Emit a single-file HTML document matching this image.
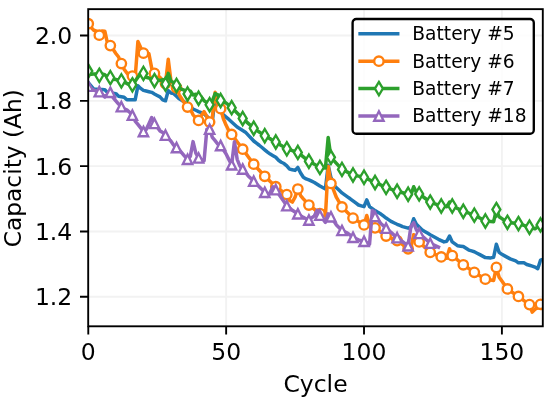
<!DOCTYPE html>
<html><head><meta charset="utf-8"><style>
html,body{margin:0;padding:0;background:#fff;}
svg{display:block;}
</style></head><body>
<svg width="550" height="401" viewBox="0 0 550 401">
<rect width="550" height="401" fill="#fff"/>
<defs><clipPath id="ax"><rect x="88.2" y="9.15" width="454.60" height="317.15"/></clipPath></defs>
<path d="M226.15 9.15V326.3 M364.02 9.15V326.3 M501.90 9.15V326.3 M88.2 296.78H542.8 M88.2 231.46H542.8 M88.2 166.14H542.8 M88.2 100.82H542.8 M88.2 35.50H542.8" stroke="#f2f2f2" stroke-width="1.88" fill="none" clip-path="url(#ax)"/>
<g clip-path="url(#ax)">
<polyline points="88.28,82.53 91.03,85.80 93.79,89.06 96.55,89.23 99.31,89.39 102.06,89.55 104.82,89.72 107.58,92.66 110.34,92.98 113.09,93.31 115.85,93.63 118.61,96.25 121.37,96.74 124.12,97.23 126.88,99.84 129.64,99.84 132.40,99.84 135.15,99.84 137.91,85.80 140.67,88.41 143.43,90.37 146.18,91.02 148.94,91.68 151.70,92.33 154.45,93.96 157.21,95.43 159.97,96.90 162.73,99.84 165.49,100.82 168.24,90.70 171.00,92.98 173.76,93.63 176.51,96.25 179.27,98.86 182.03,100.60 184.79,102.34 187.55,104.09 190.30,106.54 193.06,108.99 195.82,110.29 198.57,111.60 201.33,112.74 204.09,113.88 206.85,116.33 209.61,118.78 212.36,121.07 215.12,96.90 217.88,105.72 220.63,111.27 223.39,114.86 226.15,117.15 228.91,119.44 231.66,121.94 234.42,124.44 237.18,126.95 239.94,128.69 242.69,130.43 245.45,132.17 248.21,135.11 250.97,138.05 253.72,140.99 256.48,143.11 259.24,145.24 262.00,147.52 264.75,149.81 267.51,152.10 270.27,154.06 273.03,155.69 275.78,157.32 278.54,160.26 281.30,162.22 284.06,163.53 286.81,165.81 289.57,169.08 292.33,169.73 295.09,170.39 297.85,167.45 300.60,173.00 303.36,177.24 306.12,178.88 308.88,179.86 311.63,181.16 314.39,182.47 317.15,184.27 319.90,186.06 322.66,187.53 325.42,189.00 328.18,165.16 330.94,177.57 333.69,185.08 336.45,187.70 339.21,190.31 341.97,192.92 344.72,194.88 347.48,196.84 350.24,198.80 353.00,200.87 355.75,202.94 358.51,205.01 361.27,205.82 364.02,206.64 366.78,199.78 369.54,206.64 372.30,208.60 375.05,210.56 377.81,212.19 380.57,213.82 383.33,215.95 386.09,218.07 388.84,219.87 391.60,221.66 394.36,222.97 397.12,224.27 399.87,225.42 402.63,226.56 405.39,227.38 408.14,228.19 410.90,227.21 413.66,218.72 416.42,224.27 419.17,227.05 421.93,229.83 424.69,231.46 427.45,233.09 430.21,234.73 432.96,236.25 435.72,237.77 438.48,239.30 441.24,240.60 443.99,241.91 446.75,241.26 449.51,236.03 452.26,241.91 455.02,243.87 457.78,245.83 460.54,246.16 463.29,246.48 466.05,248.28 468.81,250.08 471.57,250.89 474.32,251.71 477.08,253.18 479.84,254.65 482.60,256.12 485.36,257.59 488.11,257.75 490.87,257.91 493.63,257.26 496.38,244.20 499.14,252.36 501.90,254.32 504.66,255.85 507.41,257.37 510.17,258.89 512.93,259.87 515.69,260.85 518.44,262.81 521.20,262.81 523.96,262.81 526.72,264.45 529.48,265.26 532.23,266.08 534.99,267.06 537.75,268.69 540.50,260.20 543.26,259.22" fill="none" stroke="#1f77b4" stroke-width="3.5" stroke-linejoin="round" stroke-linecap="square"/>
<polyline points="88.28,23.74 91.03,27.34 93.79,30.27 96.55,31.25 99.31,35.17 102.06,30.93 104.82,31.25 107.58,43.66 110.34,45.62 113.09,49.22 115.85,53.46 118.61,57.06 121.37,63.59 124.12,69.14 126.88,73.06 129.64,76.00 132.40,76.00 135.15,77.96 137.91,41.38 140.67,47.58 143.43,53.14 146.18,54.44 148.94,53.79 151.70,68.16 154.45,73.39 157.21,75.02 159.97,77.30 162.73,80.57 165.49,83.51 168.24,59.34 171.00,81.22 173.76,83.84 176.51,87.76 179.27,94.94 182.03,99.19 184.79,103.43 187.55,107.03 190.30,108.99 193.06,114.86 195.82,117.80 198.57,120.42 201.33,115.52 204.09,111.60 206.85,116.50 209.61,122.05 212.36,117.15 215.12,92.33 217.88,104.09 220.63,108.66 223.39,118.78 226.15,125.31 228.91,130.87 231.66,134.46 234.42,138.13 237.18,141.81 239.94,145.48 242.69,149.16 245.45,152.91 248.21,156.67 250.97,160.42 253.72,164.18 256.48,167.20 259.24,170.22 262.00,173.24 264.75,176.26 267.51,178.88 270.27,181.49 273.03,184.10 275.78,186.72 278.54,188.68 281.30,190.64 284.06,192.59 286.81,194.55 289.57,200.43 292.33,202.07 295.09,197.17 297.85,189.00 300.60,195.53 303.36,198.80 306.12,201.90 308.88,205.01 311.63,207.13 314.39,209.25 317.15,211.37 319.90,213.50 322.66,214.80 325.42,216.11 328.18,166.14 330.94,183.45 333.69,190.47 336.45,197.49 339.21,202.23 341.97,206.96 344.72,209.74 347.48,212.52 350.24,215.29 353.00,218.07 355.75,219.78 358.51,221.50 361.27,223.21 364.02,224.93 366.78,215.46 369.54,224.93 372.30,226.40 375.05,227.87 377.81,229.91 380.57,231.95 383.33,233.99 386.09,236.03 388.84,237.18 391.60,238.32 394.36,239.46 397.12,240.60 399.87,242.65 402.63,244.69 405.39,246.73 408.14,248.77 410.90,247.79 413.66,234.73 416.42,239.62 419.17,241.91 421.93,244.52 424.69,247.14 427.45,249.75 430.21,252.36 432.96,253.51 435.72,254.65 438.48,255.79 441.24,256.93 443.99,257.59 446.75,258.24 449.51,248.77 452.26,255.63 455.02,257.91 457.78,260.20 460.54,262.49 463.29,264.77 466.05,266.65 468.81,268.53 471.57,270.41 474.32,272.29 477.08,274.00 479.84,275.71 482.60,277.43 485.36,279.14 488.11,279.58 490.87,280.01 493.63,280.45 496.38,267.39 499.14,277.18 501.90,281.10 504.66,285.02 507.41,288.94 510.17,290.82 512.93,292.70 515.69,294.58 518.44,296.45 521.20,298.49 523.96,300.54 526.72,302.58 529.48,304.62 532.23,312.13 534.99,309.19 537.75,307.88 540.50,304.29 543.26,303.31" fill="none" stroke="#ff7f0e" stroke-width="3.5" stroke-linejoin="round" stroke-linecap="square"/>
<circle cx="88.28" cy="23.74" r="4.70" fill="#fff" stroke="#ff7f0e" stroke-width="2.35"/>
<circle cx="99.31" cy="35.17" r="4.70" fill="#fff" stroke="#ff7f0e" stroke-width="2.35"/>
<circle cx="110.34" cy="45.62" r="4.70" fill="#fff" stroke="#ff7f0e" stroke-width="2.35"/>
<circle cx="121.37" cy="63.59" r="4.70" fill="#fff" stroke="#ff7f0e" stroke-width="2.35"/>
<circle cx="132.40" cy="76.00" r="4.70" fill="#fff" stroke="#ff7f0e" stroke-width="2.35"/>
<circle cx="143.43" cy="53.14" r="4.70" fill="#fff" stroke="#ff7f0e" stroke-width="2.35"/>
<circle cx="154.45" cy="73.39" r="4.70" fill="#fff" stroke="#ff7f0e" stroke-width="2.35"/>
<circle cx="165.49" cy="83.51" r="4.70" fill="#fff" stroke="#ff7f0e" stroke-width="2.35"/>
<circle cx="176.51" cy="87.76" r="4.70" fill="#fff" stroke="#ff7f0e" stroke-width="2.35"/>
<circle cx="187.55" cy="107.03" r="4.70" fill="#fff" stroke="#ff7f0e" stroke-width="2.35"/>
<circle cx="198.57" cy="120.42" r="4.70" fill="#fff" stroke="#ff7f0e" stroke-width="2.35"/>
<circle cx="209.61" cy="122.05" r="4.70" fill="#fff" stroke="#ff7f0e" stroke-width="2.35"/>
<circle cx="220.63" cy="108.66" r="4.70" fill="#fff" stroke="#ff7f0e" stroke-width="2.35"/>
<circle cx="231.66" cy="134.46" r="4.70" fill="#fff" stroke="#ff7f0e" stroke-width="2.35"/>
<circle cx="242.69" cy="149.16" r="4.70" fill="#fff" stroke="#ff7f0e" stroke-width="2.35"/>
<circle cx="253.72" cy="164.18" r="4.70" fill="#fff" stroke="#ff7f0e" stroke-width="2.35"/>
<circle cx="264.75" cy="176.26" r="4.70" fill="#fff" stroke="#ff7f0e" stroke-width="2.35"/>
<circle cx="275.78" cy="186.72" r="4.70" fill="#fff" stroke="#ff7f0e" stroke-width="2.35"/>
<circle cx="286.81" cy="194.55" r="4.70" fill="#fff" stroke="#ff7f0e" stroke-width="2.35"/>
<circle cx="297.85" cy="189.00" r="4.70" fill="#fff" stroke="#ff7f0e" stroke-width="2.35"/>
<circle cx="308.88" cy="205.01" r="4.70" fill="#fff" stroke="#ff7f0e" stroke-width="2.35"/>
<circle cx="319.90" cy="213.50" r="4.70" fill="#fff" stroke="#ff7f0e" stroke-width="2.35"/>
<circle cx="330.94" cy="183.45" r="4.70" fill="#fff" stroke="#ff7f0e" stroke-width="2.35"/>
<circle cx="341.97" cy="206.96" r="4.70" fill="#fff" stroke="#ff7f0e" stroke-width="2.35"/>
<circle cx="353.00" cy="218.07" r="4.70" fill="#fff" stroke="#ff7f0e" stroke-width="2.35"/>
<circle cx="364.02" cy="224.93" r="4.70" fill="#fff" stroke="#ff7f0e" stroke-width="2.35"/>
<circle cx="375.05" cy="227.87" r="4.70" fill="#fff" stroke="#ff7f0e" stroke-width="2.35"/>
<circle cx="386.09" cy="236.03" r="4.70" fill="#fff" stroke="#ff7f0e" stroke-width="2.35"/>
<circle cx="397.12" cy="240.60" r="4.70" fill="#fff" stroke="#ff7f0e" stroke-width="2.35"/>
<circle cx="408.14" cy="248.77" r="4.70" fill="#fff" stroke="#ff7f0e" stroke-width="2.35"/>
<circle cx="419.17" cy="241.91" r="4.70" fill="#fff" stroke="#ff7f0e" stroke-width="2.35"/>
<circle cx="430.21" cy="252.36" r="4.70" fill="#fff" stroke="#ff7f0e" stroke-width="2.35"/>
<circle cx="441.24" cy="256.93" r="4.70" fill="#fff" stroke="#ff7f0e" stroke-width="2.35"/>
<circle cx="452.26" cy="255.63" r="4.70" fill="#fff" stroke="#ff7f0e" stroke-width="2.35"/>
<circle cx="463.29" cy="264.77" r="4.70" fill="#fff" stroke="#ff7f0e" stroke-width="2.35"/>
<circle cx="474.32" cy="272.29" r="4.70" fill="#fff" stroke="#ff7f0e" stroke-width="2.35"/>
<circle cx="485.36" cy="279.14" r="4.70" fill="#fff" stroke="#ff7f0e" stroke-width="2.35"/>
<circle cx="496.38" cy="267.39" r="4.70" fill="#fff" stroke="#ff7f0e" stroke-width="2.35"/>
<circle cx="507.41" cy="288.94" r="4.70" fill="#fff" stroke="#ff7f0e" stroke-width="2.35"/>
<circle cx="518.44" cy="296.45" r="4.70" fill="#fff" stroke="#ff7f0e" stroke-width="2.35"/>
<circle cx="529.48" cy="304.62" r="4.70" fill="#fff" stroke="#ff7f0e" stroke-width="2.35"/>
<circle cx="540.50" cy="304.29" r="4.70" fill="#fff" stroke="#ff7f0e" stroke-width="2.35"/>
<polyline points="88.28,71.10 91.03,74.37 93.79,74.04 96.55,74.04 99.31,75.35 102.06,74.04 104.82,74.69 107.58,77.30 110.34,77.63 113.09,79.26 115.85,79.59 118.61,79.92 121.37,80.90 124.12,81.88 126.88,83.51 129.64,84.49 132.40,84.82 135.15,81.22 137.91,77.30 140.67,73.39 143.43,73.39 146.18,77.30 148.94,77.96 151.70,79.26 154.45,80.57 157.21,79.59 159.97,80.57 162.73,79.59 165.49,84.16 168.24,73.39 171.00,81.22 173.76,82.53 176.51,85.47 179.27,87.76 182.03,89.39 184.79,90.37 187.55,93.96 190.30,91.02 193.06,94.94 195.82,94.29 198.57,98.21 201.33,96.90 204.09,100.82 206.85,102.45 209.61,104.74 212.36,100.82 215.12,93.63 217.88,94.94 220.63,100.49 223.39,101.47 226.15,103.11 228.91,105.07 231.66,107.68 234.42,110.37 237.18,113.07 239.94,115.76 242.69,118.46 245.45,120.91 248.21,123.36 250.97,125.80 253.72,128.25 256.48,130.13 259.24,132.01 262.00,133.89 264.75,135.77 267.51,137.32 270.27,138.87 273.03,140.42 275.78,141.97 278.54,143.69 281.30,145.40 284.06,147.12 286.81,148.83 289.57,149.73 292.33,150.63 295.09,151.52 297.85,152.42 300.60,154.63 303.36,156.83 306.12,159.04 308.88,161.24 311.63,162.79 314.39,164.34 317.15,165.90 319.90,167.45 322.66,167.77 325.42,168.10 328.18,137.40 330.94,157.32 333.69,160.34 336.45,163.36 339.21,166.38 341.97,169.41 344.72,170.79 347.48,172.18 350.24,173.57 353.00,174.96 355.75,175.53 358.51,176.10 361.27,176.67 364.02,177.24 366.78,178.55 369.54,179.86 372.30,181.16 375.05,182.47 377.81,183.69 380.57,184.92 383.33,186.14 386.09,187.37 388.84,188.35 391.60,189.33 394.36,190.31 397.12,191.29 399.87,192.02 402.63,192.76 405.39,193.49 408.14,194.23 410.90,194.88 413.66,186.72 416.42,192.27 419.17,193.90 421.93,195.94 424.69,197.98 427.45,200.02 430.21,202.07 432.96,203.05 435.72,204.03 438.48,205.01 441.24,205.99 443.99,206.31 446.75,206.64 449.51,202.07 452.26,205.99 455.02,207.29 457.78,208.60 460.54,209.90 463.29,211.21 466.05,212.19 468.81,213.17 471.57,214.15 474.32,215.13 477.08,216.60 479.84,218.07 482.60,219.54 485.36,221.01 488.11,221.23 490.87,221.44 493.63,221.66 496.38,209.58 499.14,216.76 501.90,218.61 504.66,220.46 507.41,222.32 510.17,222.64 512.93,222.97 515.69,223.30 518.44,223.62 521.20,224.52 523.96,225.42 526.72,226.32 529.48,227.21 532.23,228.03 534.99,228.85 537.75,226.89 540.50,224.93 543.26,223.29" fill="none" stroke="#2ca02c" stroke-width="3.5" stroke-linejoin="round" stroke-linecap="square"/>
<polygon points="88.28,64.45 92.26,71.10 88.28,77.75 84.29,71.10" fill="#fff" stroke="#2ca02c" stroke-width="2.35" stroke-linejoin="miter" stroke-miterlimit="10"/>
<polygon points="99.31,68.70 103.29,75.35 99.31,81.99 95.32,75.35" fill="#fff" stroke="#2ca02c" stroke-width="2.35" stroke-linejoin="miter" stroke-miterlimit="10"/>
<polygon points="110.34,70.98 114.32,77.63 110.34,84.28 106.35,77.63" fill="#fff" stroke="#2ca02c" stroke-width="2.35" stroke-linejoin="miter" stroke-miterlimit="10"/>
<polygon points="121.37,74.25 125.35,80.90 121.37,87.54 117.38,80.90" fill="#fff" stroke="#2ca02c" stroke-width="2.35" stroke-linejoin="miter" stroke-miterlimit="10"/>
<polygon points="132.40,78.17 136.38,84.82 132.40,91.46 128.41,84.82" fill="#fff" stroke="#2ca02c" stroke-width="2.35" stroke-linejoin="miter" stroke-miterlimit="10"/>
<polygon points="143.43,66.74 147.41,73.39 143.43,80.03 139.44,73.39" fill="#fff" stroke="#2ca02c" stroke-width="2.35" stroke-linejoin="miter" stroke-miterlimit="10"/>
<polygon points="154.45,73.92 158.44,80.57 154.45,87.22 150.47,80.57" fill="#fff" stroke="#2ca02c" stroke-width="2.35" stroke-linejoin="miter" stroke-miterlimit="10"/>
<polygon points="165.49,77.52 169.47,84.16 165.49,90.81 161.50,84.16" fill="#fff" stroke="#2ca02c" stroke-width="2.35" stroke-linejoin="miter" stroke-miterlimit="10"/>
<polygon points="176.51,78.82 180.50,85.47 176.51,92.12 172.53,85.47" fill="#fff" stroke="#2ca02c" stroke-width="2.35" stroke-linejoin="miter" stroke-miterlimit="10"/>
<polygon points="187.55,87.31 191.53,93.96 187.55,100.61 183.56,93.96" fill="#fff" stroke="#2ca02c" stroke-width="2.35" stroke-linejoin="miter" stroke-miterlimit="10"/>
<polygon points="198.57,91.56 202.56,98.21 198.57,104.85 194.59,98.21" fill="#fff" stroke="#2ca02c" stroke-width="2.35" stroke-linejoin="miter" stroke-miterlimit="10"/>
<polygon points="209.61,98.09 213.59,104.74 209.61,111.39 205.62,104.74" fill="#fff" stroke="#2ca02c" stroke-width="2.35" stroke-linejoin="miter" stroke-miterlimit="10"/>
<polygon points="220.63,93.85 224.62,100.49 220.63,107.14 216.65,100.49" fill="#fff" stroke="#2ca02c" stroke-width="2.35" stroke-linejoin="miter" stroke-miterlimit="10"/>
<polygon points="231.66,101.03 235.65,107.68 231.66,114.33 227.68,107.68" fill="#fff" stroke="#2ca02c" stroke-width="2.35" stroke-linejoin="miter" stroke-miterlimit="10"/>
<polygon points="242.69,111.81 246.68,118.46 242.69,125.10 238.71,118.46" fill="#fff" stroke="#2ca02c" stroke-width="2.35" stroke-linejoin="miter" stroke-miterlimit="10"/>
<polygon points="253.72,121.61 257.71,128.25 253.72,134.90 249.74,128.25" fill="#fff" stroke="#2ca02c" stroke-width="2.35" stroke-linejoin="miter" stroke-miterlimit="10"/>
<polygon points="264.75,129.12 268.74,135.77 264.75,142.41 260.77,135.77" fill="#fff" stroke="#2ca02c" stroke-width="2.35" stroke-linejoin="miter" stroke-miterlimit="10"/>
<polygon points="275.78,135.32 279.77,141.97 275.78,148.62 271.80,141.97" fill="#fff" stroke="#2ca02c" stroke-width="2.35" stroke-linejoin="miter" stroke-miterlimit="10"/>
<polygon points="286.81,142.18 290.80,148.83 286.81,155.48 282.83,148.83" fill="#fff" stroke="#2ca02c" stroke-width="2.35" stroke-linejoin="miter" stroke-miterlimit="10"/>
<polygon points="297.85,145.78 301.83,152.42 297.85,159.07 293.86,152.42" fill="#fff" stroke="#2ca02c" stroke-width="2.35" stroke-linejoin="miter" stroke-miterlimit="10"/>
<polygon points="308.88,154.59 312.86,161.24 308.88,167.89 304.89,161.24" fill="#fff" stroke="#2ca02c" stroke-width="2.35" stroke-linejoin="miter" stroke-miterlimit="10"/>
<polygon points="319.90,160.80 323.89,167.45 319.90,174.09 315.92,167.45" fill="#fff" stroke="#2ca02c" stroke-width="2.35" stroke-linejoin="miter" stroke-miterlimit="10"/>
<polygon points="330.94,150.68 334.92,157.32 330.94,163.97 326.95,157.32" fill="#fff" stroke="#2ca02c" stroke-width="2.35" stroke-linejoin="miter" stroke-miterlimit="10"/>
<polygon points="341.97,162.76 345.95,169.41 341.97,176.05 337.98,169.41" fill="#fff" stroke="#2ca02c" stroke-width="2.35" stroke-linejoin="miter" stroke-miterlimit="10"/>
<polygon points="353.00,168.31 356.98,174.96 353.00,181.60 349.01,174.96" fill="#fff" stroke="#2ca02c" stroke-width="2.35" stroke-linejoin="miter" stroke-miterlimit="10"/>
<polygon points="364.02,170.60 368.01,177.24 364.02,183.89 360.04,177.24" fill="#fff" stroke="#2ca02c" stroke-width="2.35" stroke-linejoin="miter" stroke-miterlimit="10"/>
<polygon points="375.05,175.82 379.04,182.47 375.05,189.12 371.07,182.47" fill="#fff" stroke="#2ca02c" stroke-width="2.35" stroke-linejoin="miter" stroke-miterlimit="10"/>
<polygon points="386.09,180.72 390.07,187.37 386.09,194.02 382.10,187.37" fill="#fff" stroke="#2ca02c" stroke-width="2.35" stroke-linejoin="miter" stroke-miterlimit="10"/>
<polygon points="397.12,184.64 401.10,191.29 397.12,197.93 393.13,191.29" fill="#fff" stroke="#2ca02c" stroke-width="2.35" stroke-linejoin="miter" stroke-miterlimit="10"/>
<polygon points="408.14,187.58 412.13,194.23 408.14,200.87 404.16,194.23" fill="#fff" stroke="#2ca02c" stroke-width="2.35" stroke-linejoin="miter" stroke-miterlimit="10"/>
<polygon points="419.17,187.25 423.16,193.90 419.17,200.55 415.19,193.90" fill="#fff" stroke="#2ca02c" stroke-width="2.35" stroke-linejoin="miter" stroke-miterlimit="10"/>
<polygon points="430.21,195.42 434.19,202.07 430.21,208.71 426.22,202.07" fill="#fff" stroke="#2ca02c" stroke-width="2.35" stroke-linejoin="miter" stroke-miterlimit="10"/>
<polygon points="441.24,199.34 445.22,205.99 441.24,212.63 437.25,205.99" fill="#fff" stroke="#2ca02c" stroke-width="2.35" stroke-linejoin="miter" stroke-miterlimit="10"/>
<polygon points="452.26,199.34 456.25,205.99 452.26,212.63 448.28,205.99" fill="#fff" stroke="#2ca02c" stroke-width="2.35" stroke-linejoin="miter" stroke-miterlimit="10"/>
<polygon points="463.29,204.56 467.28,211.21 463.29,217.86 459.31,211.21" fill="#fff" stroke="#2ca02c" stroke-width="2.35" stroke-linejoin="miter" stroke-miterlimit="10"/>
<polygon points="474.32,208.48 478.31,215.13 474.32,221.78 470.34,215.13" fill="#fff" stroke="#2ca02c" stroke-width="2.35" stroke-linejoin="miter" stroke-miterlimit="10"/>
<polygon points="485.36,214.36 489.34,221.01 485.36,227.66 481.37,221.01" fill="#fff" stroke="#2ca02c" stroke-width="2.35" stroke-linejoin="miter" stroke-miterlimit="10"/>
<polygon points="496.38,202.93 500.37,209.58 496.38,216.22 492.40,209.58" fill="#fff" stroke="#2ca02c" stroke-width="2.35" stroke-linejoin="miter" stroke-miterlimit="10"/>
<polygon points="507.41,215.67 511.40,222.32 507.41,228.96 503.43,222.32" fill="#fff" stroke="#2ca02c" stroke-width="2.35" stroke-linejoin="miter" stroke-miterlimit="10"/>
<polygon points="518.44,216.97 522.43,223.62 518.44,230.27 514.46,223.62" fill="#fff" stroke="#2ca02c" stroke-width="2.35" stroke-linejoin="miter" stroke-miterlimit="10"/>
<polygon points="529.48,220.57 533.46,227.21 529.48,233.86 525.49,227.21" fill="#fff" stroke="#2ca02c" stroke-width="2.35" stroke-linejoin="miter" stroke-miterlimit="10"/>
<polygon points="540.50,218.28 544.49,224.93 540.50,231.57 536.52,224.93" fill="#fff" stroke="#2ca02c" stroke-width="2.35" stroke-linejoin="miter" stroke-miterlimit="10"/>
<polyline points="88.28,86.12 91.03,88.41 93.79,90.04 96.55,91.02 99.31,91.68 102.06,94.29 104.82,96.90 107.58,94.29 110.34,92.33 113.09,97.55 115.85,100.82 118.61,104.09 121.37,106.70 124.12,108.99 126.88,109.96 129.64,112.25 132.40,115.19 135.15,121.07 137.91,124.34 140.67,127.93 143.43,131.52 146.18,129.56 148.94,123.68 151.70,117.48 154.45,123.36 157.21,127.27 159.97,130.87 162.73,132.50 165.49,135.11 168.24,138.38 171.00,141.32 173.76,145.24 176.51,147.52 179.27,149.81 182.03,153.08 184.79,156.34 187.55,159.28 190.30,156.34 193.06,141.64 195.82,153.08 198.57,157.98 201.33,159.61 204.09,160.59 206.85,129.23 209.61,129.23 212.36,137.40 215.12,140.67 217.88,144.26 220.63,145.56 223.39,149.81 226.15,154.06 228.91,159.61 231.66,164.83 234.42,141.64 237.18,159.28 239.94,166.14 242.69,169.08 245.45,172.51 248.21,175.94 250.97,178.55 253.72,181.16 256.48,183.94 259.24,186.72 262.00,189.49 264.75,192.27 267.51,196.51 270.27,192.27 273.03,186.72 275.78,189.66 278.54,193.74 281.30,197.82 284.06,201.74 286.81,205.66 289.57,207.94 292.33,210.23 295.09,212.03 297.85,213.82 300.60,215.62 303.36,217.42 306.12,218.72 308.88,220.03 311.63,217.91 314.39,215.78 317.15,210.23 319.90,215.13 322.66,218.72 325.42,222.32 328.18,213.82 330.94,216.76 333.69,220.85 336.45,224.93 339.21,227.70 341.97,230.48 344.72,231.79 347.48,233.09 350.24,235.22 353.00,237.34 355.75,238.65 358.51,239.95 361.27,240.60 364.02,241.26 366.78,242.73 369.54,244.20 372.30,210.56 375.05,216.44 377.81,219.87 380.57,223.29 383.33,225.74 386.09,228.19 388.84,230.56 391.60,232.93 394.36,235.30 397.12,237.67 399.87,239.71 402.63,241.75 405.39,243.79 408.14,245.83 410.90,226.56 413.66,222.64 416.42,229.83 419.17,233.42 421.93,235.87 424.69,238.32 427.45,240.77 430.21,243.22 432.96,244.52 435.72,245.83 438.48,247.14" fill="none" stroke="#9467bd" stroke-width="3.5" stroke-linejoin="round" stroke-linecap="square"/>
<polygon points="88.28,81.42 92.98,90.82 83.58,90.82" fill="#fff" stroke="#9467bd" stroke-width="2.35" stroke-linejoin="miter" stroke-miterlimit="10"/>
<polygon points="99.31,86.98 104.01,96.38 94.61,96.38" fill="#fff" stroke="#9467bd" stroke-width="2.35" stroke-linejoin="miter" stroke-miterlimit="10"/>
<polygon points="110.34,87.63 115.04,97.03 105.64,97.03" fill="#fff" stroke="#9467bd" stroke-width="2.35" stroke-linejoin="miter" stroke-miterlimit="10"/>
<polygon points="121.37,102.00 126.07,111.40 116.67,111.40" fill="#fff" stroke="#9467bd" stroke-width="2.35" stroke-linejoin="miter" stroke-miterlimit="10"/>
<polygon points="132.40,110.49 137.09,119.89 127.70,119.89" fill="#fff" stroke="#9467bd" stroke-width="2.35" stroke-linejoin="miter" stroke-miterlimit="10"/>
<polygon points="143.43,126.82 148.12,136.22 138.73,136.22" fill="#fff" stroke="#9467bd" stroke-width="2.35" stroke-linejoin="miter" stroke-miterlimit="10"/>
<polygon points="154.45,118.66 159.15,128.06 149.75,128.06" fill="#fff" stroke="#9467bd" stroke-width="2.35" stroke-linejoin="miter" stroke-miterlimit="10"/>
<polygon points="165.49,130.41 170.19,139.81 160.79,139.81" fill="#fff" stroke="#9467bd" stroke-width="2.35" stroke-linejoin="miter" stroke-miterlimit="10"/>
<polygon points="176.51,142.82 181.21,152.22 171.81,152.22" fill="#fff" stroke="#9467bd" stroke-width="2.35" stroke-linejoin="miter" stroke-miterlimit="10"/>
<polygon points="187.55,154.58 192.25,163.98 182.85,163.98" fill="#fff" stroke="#9467bd" stroke-width="2.35" stroke-linejoin="miter" stroke-miterlimit="10"/>
<polygon points="198.57,153.28 203.27,162.68 193.88,162.68" fill="#fff" stroke="#9467bd" stroke-width="2.35" stroke-linejoin="miter" stroke-miterlimit="10"/>
<polygon points="209.61,124.53 214.31,133.93 204.91,133.93" fill="#fff" stroke="#9467bd" stroke-width="2.35" stroke-linejoin="miter" stroke-miterlimit="10"/>
<polygon points="220.63,140.86 225.33,150.26 215.94,150.26" fill="#fff" stroke="#9467bd" stroke-width="2.35" stroke-linejoin="miter" stroke-miterlimit="10"/>
<polygon points="231.66,160.13 236.36,169.53 226.97,169.53" fill="#fff" stroke="#9467bd" stroke-width="2.35" stroke-linejoin="miter" stroke-miterlimit="10"/>
<polygon points="242.69,164.38 247.39,173.78 238.00,173.78" fill="#fff" stroke="#9467bd" stroke-width="2.35" stroke-linejoin="miter" stroke-miterlimit="10"/>
<polygon points="253.72,176.46 258.43,185.86 249.03,185.86" fill="#fff" stroke="#9467bd" stroke-width="2.35" stroke-linejoin="miter" stroke-miterlimit="10"/>
<polygon points="264.75,187.57 269.45,196.97 260.06,196.97" fill="#fff" stroke="#9467bd" stroke-width="2.35" stroke-linejoin="miter" stroke-miterlimit="10"/>
<polygon points="275.78,184.96 280.48,194.36 271.08,194.36" fill="#fff" stroke="#9467bd" stroke-width="2.35" stroke-linejoin="miter" stroke-miterlimit="10"/>
<polygon points="286.81,200.96 291.51,210.36 282.12,210.36" fill="#fff" stroke="#9467bd" stroke-width="2.35" stroke-linejoin="miter" stroke-miterlimit="10"/>
<polygon points="297.85,209.12 302.55,218.52 293.15,218.52" fill="#fff" stroke="#9467bd" stroke-width="2.35" stroke-linejoin="miter" stroke-miterlimit="10"/>
<polygon points="308.88,215.33 313.57,224.73 304.18,224.73" fill="#fff" stroke="#9467bd" stroke-width="2.35" stroke-linejoin="miter" stroke-miterlimit="10"/>
<polygon points="319.90,210.43 324.60,219.83 315.20,219.83" fill="#fff" stroke="#9467bd" stroke-width="2.35" stroke-linejoin="miter" stroke-miterlimit="10"/>
<polygon points="330.94,212.06 335.63,221.46 326.24,221.46" fill="#fff" stroke="#9467bd" stroke-width="2.35" stroke-linejoin="miter" stroke-miterlimit="10"/>
<polygon points="341.97,225.78 346.67,235.18 337.27,235.18" fill="#fff" stroke="#9467bd" stroke-width="2.35" stroke-linejoin="miter" stroke-miterlimit="10"/>
<polygon points="353.00,232.64 357.69,242.04 348.30,242.04" fill="#fff" stroke="#9467bd" stroke-width="2.35" stroke-linejoin="miter" stroke-miterlimit="10"/>
<polygon points="364.02,236.56 368.72,245.96 359.32,245.96" fill="#fff" stroke="#9467bd" stroke-width="2.35" stroke-linejoin="miter" stroke-miterlimit="10"/>
<polygon points="375.05,211.74 379.75,221.14 370.35,221.14" fill="#fff" stroke="#9467bd" stroke-width="2.35" stroke-linejoin="miter" stroke-miterlimit="10"/>
<polygon points="386.09,223.49 390.79,232.89 381.39,232.89" fill="#fff" stroke="#9467bd" stroke-width="2.35" stroke-linejoin="miter" stroke-miterlimit="10"/>
<polygon points="397.12,232.97 401.81,242.37 392.42,242.37" fill="#fff" stroke="#9467bd" stroke-width="2.35" stroke-linejoin="miter" stroke-miterlimit="10"/>
<polygon points="408.14,241.13 412.84,250.53 403.44,250.53" fill="#fff" stroke="#9467bd" stroke-width="2.35" stroke-linejoin="miter" stroke-miterlimit="10"/>
<polygon points="419.17,228.72 423.87,238.12 414.47,238.12" fill="#fff" stroke="#9467bd" stroke-width="2.35" stroke-linejoin="miter" stroke-miterlimit="10"/>
<polygon points="430.21,238.52 434.91,247.92 425.51,247.92" fill="#fff" stroke="#9467bd" stroke-width="2.35" stroke-linejoin="miter" stroke-miterlimit="10"/>
</g>
<rect x="88.2" y="9.15" width="454.60" height="317.15" fill="none" stroke="#000" stroke-width="1.88" stroke-linejoin="miter"/>
<path d="M88.28 326.3v8.2 M226.15 326.3v8.2 M364.02 326.3v8.2 M501.90 326.3v8.2 M88.2 296.78h-8.2 M88.2 231.46h-8.2 M88.2 166.14h-8.2 M88.2 100.82h-8.2 M88.2 35.50h-8.2" stroke="#000" stroke-width="1.88" fill="none"/>
<g font-family="DejaVu Sans, sans-serif" font-size="23.5" fill="#000">
<text x="88.28" y="360.0" text-anchor="middle">0</text>
<text x="226.15" y="360.0" text-anchor="middle">50</text>
<text x="364.02" y="360.0" text-anchor="middle">100</text>
<text x="501.90" y="360.0" text-anchor="middle">150</text>
<text x="72.3" y="305.38" text-anchor="end">1.2</text>
<text x="72.3" y="240.06" text-anchor="end">1.4</text>
<text x="72.3" y="174.74" text-anchor="end">1.6</text>
<text x="72.3" y="109.42" text-anchor="end">1.8</text>
<text x="72.3" y="44.10" text-anchor="end">2.0</text>
<text x="315.5" y="392.4" text-anchor="middle">Cycle</text>
<text transform="translate(21.0,168.2) rotate(-90)" x="0" y="0" text-anchor="middle" font-size="23.3">Capacity (Ah)</text>
</g>
<rect x="352.6" y="19.0" width="181.20" height="114.70" rx="3.76" fill="#fff" fill-opacity="0.8" stroke="#000" stroke-opacity="1" stroke-width="2.35"/>
<g font-family="DejaVu Sans, sans-serif" font-size="18.65" fill="#000">
<path d="M360.1 33.80H397.7" stroke="#1f77b4" stroke-width="3.5" stroke-linecap="square"/>
<text x="412.3" y="40.20">Battery #5</text>
<path d="M360.1 61.20H397.7" stroke="#ff7f0e" stroke-width="3.5" stroke-linecap="square"/>
<circle cx="378.90" cy="61.20" r="4.70" fill="#fff" stroke="#ff7f0e" stroke-width="2.35"/>
<text x="412.3" y="67.60">Battery #6</text>
<path d="M360.1 88.60H397.7" stroke="#2ca02c" stroke-width="3.5" stroke-linecap="square"/>
<polygon points="378.90,81.95 382.89,88.60 378.90,95.25 374.91,88.60" fill="#fff" stroke="#2ca02c" stroke-width="2.35" stroke-linejoin="miter" stroke-miterlimit="10"/>
<text x="412.3" y="95.00">Battery #7</text>
<path d="M360.1 116.00H397.7" stroke="#9467bd" stroke-width="3.5" stroke-linecap="square"/>
<polygon points="378.90,111.30 383.60,120.70 374.20,120.70" fill="#fff" stroke="#9467bd" stroke-width="2.35" stroke-linejoin="miter" stroke-miterlimit="10"/>
<text x="412.3" y="122.40">Battery #18</text>
</g>
</svg>
</body></html>
